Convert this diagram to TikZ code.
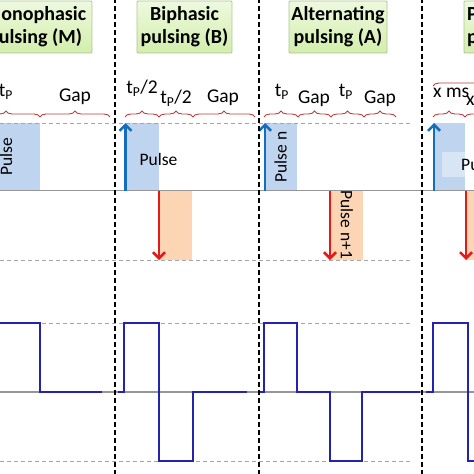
\documentclass[tikz,border=0pt]{standalone}
\usepackage{fontspec}
\setmainfont{Carlito}
\usetikzlibrary{decorations.pathreplacing,arrows.meta}
\definecolor{titleTop}{RGB}{238,249,222}
\definecolor{titleBot}{RGB}{210,238,172}
\definecolor{titleBorder}{RGB}{175,195,145}
\definecolor{blueFill}{RGB}{191,212,238}
\definecolor{orangeFill}{RGB}{252,213,181}
\definecolor{arrowBlue}{RGB}{20,110,190}
\definecolor{arrowRed}{RGB}{230,25,25}
\definecolor{braceCol}{RGB}{190,60,60}
\definecolor{waveCol}{RGB}{35,35,175}
\definecolor{gridGray}{RGB}{165,165,165}
\definecolor{zeroGray}{RGB}{150,150,150}
\begin{document}
\begin{tikzpicture}[x=1pt,y=-1pt,
  titlebox/.style={draw=titleBorder, line width=0.8pt, top color=titleTop, bottom color=titleBot,
    rounded corners=1pt, align=center, inner sep=0pt, minimum height=52pt,
    font=\fontsize{20}{23}\selectfont\bfseries},
  lbl/.style={anchor=base, inner sep=0pt, font=\fontsize{19.5}{22}\selectfont},
  pulselbl/.style={inner sep=0pt, font=\fontsize{17.5}{20}\selectfont},
  bluebox/.style={fill=blueFill, draw=none},
  orangebox/.style={fill=orangeFill, draw=none},
  bracestyle/.style={draw=braceCol, line width=0.9pt, decorate, decoration={brace, amplitude=6pt}},
  griddash/.style={draw=gridGray, line width=0.9pt, dash pattern=on 4pt off 3pt},
  zeroline/.style={draw=zeroGray, line width=1.2pt},
  uparrow/.style={draw=arrowBlue, line width=2.5pt, -{Straight Barb[length=6pt,width=12pt]}},
  downarrow/.style={draw=arrowRed, line width=2.5pt, -{Straight Barb[length=6pt,width=12pt]}},
  wave/.style={draw=waveCol, line width=2.3pt, line join=miter},
  sep/.style={draw=black, line width=1.6pt, dash pattern=on 5pt off 3pt}
]
\useasboundingbox (0,0) rectangle (474,474);
\clip (0,0) rectangle (474,474);

% title boxes
\node[titlebox, minimum width=114pt] (tM) at (35,27) {Monophasic\\pulsing (M)};
\node[titlebox, minimum width=95pt] (tB) at (184.5,27) {Biphasic\\pulsing (B)};
\node[titlebox, minimum width=98pt] (tA) at (338,27) {Alternating\\pulsing (A)};
\node[titlebox, minimum width=110pt, align=left, text width=104pt] (tP) at (519,27) {Periodic\\pulsing (P)};

% pulse boxes
\path[bluebox] (-28,123) rectangle (40,190.5);
\path[bluebox] (125,123) rectangle (159,190.5);
\path[orangebox] (159,190.5) rectangle (192,260);
\path[bluebox] (264,123) rectangle (297,190.5);
\path[orangebox] (330,190.5) rectangle (363,260);
\path[bluebox] (433,123) rectangle (465,190.5);
\path[orangebox] (465,190.5) rectangle (500,260);
\path[fill=white, fill opacity=0.4] (442,152) rectangle (500,177);

% grid lines
\path[griddash] (0,123) -- (412,123);
\path[griddash] (0,260) -- (412,260);
\path[griddash] (0,323) -- (412,323);
\path[griddash] (0,461) -- (412,461);
\path[zeroline] (0,190.5) -- (474,190.5);
\path[zeroline] (0,392) -- (474,392);

% braces
\path[bracestyle] (-28,117) -- (40,117);
\path[bracestyle] (40,117) -- (110,117);
\path[bracestyle] (125,117) -- (159,117);
\path[bracestyle] (159,117) -- (193,117);
\path[bracestyle] (193,117) -- (255,117);
\path[bracestyle] (264,117) -- (298,117);
\path[bracestyle] (298,117) -- (331,117);
\path[bracestyle] (331,117) -- (364,117);
\path[bracestyle] (364,117) -- (396,117);
\path[bracestyle] (433,86) -- (540,86);
\path[bracestyle] (433,117) -- (465,117);
\path[bracestyle] (465,117) -- (500,117);

% brace labels
\node[lbl] (lM1) at (6,96) {t\textsubscript{P}};
\node[lbl] (lM2) at (75,101) {Gap};
\node[lbl] (lB1) at (142,93) {t\textsubscript{P}/2};
\node[lbl] (lB2) at (176,103) {t\textsubscript{P}/2};
\node[lbl] (lB3) at (223,102) {Gap};
\node[lbl] (lA1) at (282,96) {t\textsubscript{P}};
\node[lbl] (lA2) at (314,103) {Gap};
\node[lbl] (lA3) at (346,96) {t\textsubscript{P}};
\node[lbl] (lA4) at (380,103) {Gap};
\node[lbl, anchor=base west] (lP1) at (433,97) {x ms};
\node[lbl, anchor=base west] (lP2) at (466,105) {x ms};

% pulse labels
\node[pulselbl, rotate=90] (pM) at (6,157) {Pulse};
\node[pulselbl] (pB) at (158.5,159) {Pulse};
\node[pulselbl, rotate=90] (pA1) at (280.5,157) {Pulse n};
\node[pulselbl, rotate=-90] (pA2) at (347,225) {Pulse n+1};
\node[pulselbl, anchor=west] (pP) at (461,164.5) {Pulse};

% arrows
\coordinate (bB0) at (125.5,190.5); \coordinate (bB1) at (125.5,123);
\coordinate (rB0) at (159,190.5);   \coordinate (rB1) at (159,260);
\coordinate (bA0) at (265,190.5);   \coordinate (bA1) at (265,123);
\coordinate (rA0) at (330,190.5);   \coordinate (rA1) at (330,260);
\coordinate (bP0) at (434,190.5);   \coordinate (bP1) at (434,123);
\coordinate (rP0) at (466,190.5);   \coordinate (rP1) at (466,260);
\draw[uparrow] (bB0) -- (bB1);
\draw[downarrow] (rB0) -- (rB1);
\draw[uparrow] (bA0) -- (bA1);
\draw[downarrow] (rA0) -- (rA1);
\draw[uparrow] (bP0) -- (bP1);
\draw[downarrow] (rP0) -- (rP1);

% waveforms
\path[wave] (-5,323) -- (40,323) -- (40,392) -- (102,392);
\path[wave] (118,392) -- (124,392) -- (124,323) -- (159,323) -- (159,461) -- (193,461) -- (193,392) -- (247,392);
\path[wave] (258,392) -- (264,392) -- (264,323) -- (297,323) -- (297,392) -- (330,392) -- (330,461) -- (362,461) -- (362,392) -- (420,392);
\path[wave] (426,392) -- (433,392) -- (433,323) -- (468,323) -- (468,461) -- (480,461);

% separators
\path[sep] (115,-2) -- (115,476);
\path[sep] (259,-2) -- (259,476);
\path[sep] (422,-2) -- (422,476);
\end{tikzpicture}
\end{document}
